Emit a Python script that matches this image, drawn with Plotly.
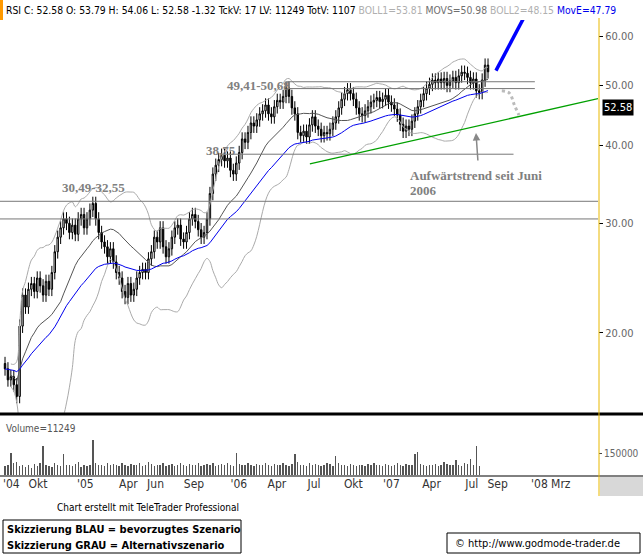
import plotly.graph_objects as go
import pandas as pd
import numpy as np

closes = [17.5,16.8,17.0,16.5,15.8,20.5,23.0,22.0,23.5,24.0,23.3,24.5,23.8,23.0,24.2,23.5,25.0,
          27.0,28.5,29.5,30.5,30.0,29.0,29.8,28.8,30.5,31.0,29.5,30.5,31.5,32.3,30.5,
          29.0,28.0,27.5,26.5,27.3,26.0,25.0,24.5,23.3,22.8,24.0,23.0,23.5,24.5,25.0,25.3,25.0,26.3,27.0,
          28.5,28.0,29.5,27.5,26.5,27.3,28.5,29.5,29.8,28.3,28.0,29.0,30.5,31.0,
          30.2,29.3,28.5,29.0,30.5,33.5,36.0,37.2,38.0,38.6,37.8,38.2,36.5,36.0,37.5,
          39.0,41.0,40.5,42.0,43.5,43.0,44.0,45.0,45.5,46.5,45.0,44.5,46.2,47.3,47.0,
          48.0,49.5,48.0,46.0,45.0,42.0,41.5,42.2,41.3,43.2,44.5,43.0,42.5,
          41.5,42.0,41.8,42.5,43.5,44.5,46.0,47.5,48.5,49.2,48.5,47.5,
          46.0,45.0,44.7,45.5,46.2,47.0,47.3,47.8,47.1,47.5,48.2,47.0,46.5,
          45.8,44.8,43.3,42.2,43.0,42.5,43.8,45.0,46.2,47.3,48.5,49.5,50.2,51.0,
          50.5,51.2,50.5,51.3,50.0,50.8,51.5,50.5,51.8,52.5,52.3,51.5,50.5,51.2,
          49.0,48.7,51.0,53.9,52.58]
volumes = [60,70,150,80,90,60,70,55,65,50,75,60,80,200,70,60,55,80,65,60,140,70,65,60,75,90,
           55,70,60,65,240,80,70,65,60,85,70,75,65,60,80,70,60,75,70,65,80,60,70,90,75,
           60,70,65,85,60,70,75,60,65,80,70,60,75,65,70,80,60,65,75,70,85,60,70,75,65,
           80,70,60,150,75,70,65,80,70,60,75,70,65,85,70,60,75,70,65,80,70,
           60,75,140,90,70,65,60,80,70,75,65,60,70,80,75,60,130,85,70,65,60,75,70,
           60,65,70,60,75,70,80,65,70,60,75,70,60,65,80,70,60,75,70,65,
           140,160,75,70,60,65,70,75,60,70,90,75,65,70,100,70,60,85,75,110,70,200,60]
tick_dates = ["2004-07-06","2004-09-08","2004-12-30","2005-04-12","2005-06-16","2005-09-16",
              "2006-01-01","2006-04-02","2006-06-30","2006-10-02","2007-01-01","2007-04-07",
              "2007-07-12","2007-09-12","2007-12-21","2008-02-10"]
tick_text = ["'04","Okt","'05","Apr","Jun","Sep","'06","Apr","Jul","Okt","'07","Apr","Jul","Sep","'08","Mrz"]
levels_hi = [49.41, 50.68]
level_mid = 38.75
levels_lo = [30.49, 32.55]
trend_dates = ["2006-06-20", "2008-05-09"]
trend_vals = [37.4, 47.6]
blue_dates = ["2007-09-08", "2007-11-15"]
blue_vals = [52.8, 64.5]
grey_dates = ["2007-09-22", "2007-10-10", "2007-10-22", "2007-11-02"]
grey_vals = [49.0, 48.6, 46.5, 44.8]

dates = pd.date_range("2004-06-21", periods=len(closes), freq="7D")
c = pd.Series(closes, index=dates)
o = c.shift(1).fillna(c.iloc[0] * 1.02)
hi = np.maximum(o, c) * 1.025
lo = np.minimum(o, c) * 0.975
sma = c.rolling(20, min_periods=3).mean()
sd = c.rolling(20, min_periods=3).std()
ema = c.ewm(span=40, adjust=False).mean()

fig = go.Figure()
fig.add_trace(go.Scatter(x=dates, y=sma + 2 * sd, mode="lines", line=dict(color="#aaaaaa", width=1, shape="spline")))
fig.add_trace(go.Scatter(x=dates, y=sma - 2 * sd, mode="lines", line=dict(color="#aaaaaa", width=1, shape="spline")))
fig.add_trace(go.Scatter(x=dates, y=sma, mode="lines", line=dict(color="#555555", width=1)))
fig.add_trace(go.Scatter(x=dates, y=ema, mode="lines", line=dict(color="#0000ee", width=1)))
fig.add_trace(go.Candlestick(x=dates, open=o, high=hi, low=lo, close=c,
                             increasing=dict(line=dict(color="black", width=1), fillcolor="white"),
                             decreasing=dict(line=dict(color="black", width=1), fillcolor="black"),
                             whiskerwidth=0))
lc = "#777777"
for v in levels_hi:
    fig.add_trace(go.Scatter(x=["2006-04-25", "2007-12-10"], y=[v, v], mode="lines", line=dict(color=lc, width=1)))
fig.add_trace(go.Scatter(x=["2005-11-20", "2007-10-20"], y=[level_mid, level_mid], mode="lines", line=dict(color=lc, width=1)))
for v in levels_lo:
    fig.add_trace(go.Scatter(x=["2004-06-09", "2008-05-09"], y=[v, v], mode="lines", line=dict(color=lc, width=1)))
fig.add_trace(go.Scatter(x=trend_dates, y=trend_vals, mode="lines", line=dict(color="#00a000", width=1.3)))
fig.add_trace(go.Scatter(x=blue_dates, y=blue_vals, mode="lines", line=dict(color="#0000ff", width=3.5)))
fig.add_trace(go.Scatter(x=grey_dates, y=grey_vals, mode="lines", line=dict(color="#bbbbbb", width=3, dash="dot", shape="spline")))
fig.add_trace(go.Bar(x=dates, y=[v * 1000 for v in volumes], marker=dict(color="#555555", line=dict(width=0)),
                     width=0.9 * 86400000, xaxis="x2", yaxis="y2"))

W, H = 643, 555
px = lambda x: x / W
py = lambda y: 1 - y / H
NAR = "DejaVu Sans Condensed"
ann = []
def t(x, y, s, size=12, color="#808080", font="Liberation Serif", bold=True, xa="left", ya="middle"):
    ann.append(dict(x=px(x), y=py(y), xref="paper", yref="paper", text=("<b>%s</b>" % s) if bold else s,
                    showarrow=False, xanchor=xa, yanchor=ya, font=dict(family=font, size=size, color=color)))
t(225, 86, "49,41-50,68", 13)
t(204, 150, "38,75", 13)
t(60, 187, "30,49-32,55", 13)
t(408, 175, "Aufwärtstrend seit Juni", 13)
t(408, 190, "2006", 13)
hdr = ("RSI C: 52.58 O: 53.79 H: 54.06 L: 52.58 -1.32 TckV: 17 LV: 11249 TotV: 1107 "
       "<span style='color:#b0b0b0'>BOLL1=53.81</span> <span style='color:#707070'>MOVS=50.98</span> "
       "<span style='color:#b0b0b0'>BOLL2=48.15</span> <span style='color:#0000ee'>MovE=47.79</span>")
t(4, 10, hdr, 10.3, "black", NAR, False)
t(4, 428, "Volume=11249", 10, "#555555", NAR, False)
t(55, 507, "Chart erstellt mit TeleTrader Professional", 10, "black", NAR, False)
t(5, 529, "Skizzierung BLAU = bevorzugtes Szenario", 11, "black", NAR)
t(5, 545, "Skizzierung GRAU = Alternativszenario", 11, "black", NAR)
t(453, 543, "© http://www.godmode-trader.de", 11, "black", NAR, False)
ann.append(dict(x=px(602), y=py(99), xref="paper", yref="paper", text="52.58", showarrow=False, xanchor="left",
                bgcolor="black", font=dict(family=NAR, size=11, color="white"), borderpad=1))
ann.append(dict(x=px(476), y=py(133), ax=2, ay=29, xref="paper", yref="paper",
                showarrow=True, arrowhead=2, arrowsize=1, arrowwidth=1.5, arrowcolor="#888888", text=""))

shapes = [
    dict(type="rect", xref="paper", yref="paper", x0=0, x1=px(3), y0=py(20), y1=py(0), fillcolor="#ff9900", line=dict(width=0)),
    dict(type="line", xref="paper", yref="paper", x0=0, x1=1, y0=py(414), y1=py(414), line=dict(color="black", width=3)),
    dict(type="line", xref="paper", yref="paper", x0=0, x1=1, y0=py(476), y1=py(476), line=dict(color="black", width=1)),
    dict(type="line", xref="paper", yref="paper", x0=px(599), x1=px(599), y0=py(496), y1=py(18), line=dict(color="#e8b800", width=1)),
    dict(type="rect", xref="paper", yref="paper", x0=px(600), x1=px(643), y0=py(496), y1=py(477), fillcolor="#d8d8d8", line=dict(width=0)),
    dict(type="rect", xref="paper", yref="paper", x0=px(3), x1=px(241), y0=py(553), y1=py(520), line=dict(color="black", width=1)),
    dict(type="rect", xref="paper", yref="paper", x0=px(447), x1=px(640), y0=py(553), y1=py(533), line=dict(color="black", width=1)),
]

xr = ["2004-06-09", "2008-05-09"]
fig.update_layout(
    width=W, height=H, margin=dict(l=0, r=0, t=0, b=0), paper_bgcolor="white", plot_bgcolor="white",
    showlegend=False, annotations=ann, shapes=shapes, bargap=0,
    xaxis=dict(domain=[0, px(598)], range=xr, showticklabels=False, showgrid=False, rangeslider=dict(visible=False),
               anchor="y"),
    yaxis=dict(domain=[py(413), py(20)], type="log", range=[np.log10(14.86), np.log10(63.7)], side="right",
               tickvals=[20, 30, 40, 50, 60], ticktext=["20.00", "30.00", "40.00", "50.00", "60.00"],
               showgrid=False, ticks="outside", ticklen=4, tickcolor="black",
               tickfont=dict(family=NAR, size=11, color="#666666")),
    xaxis2=dict(domain=[0, px(598)], range=xr, anchor="y2", showgrid=False, tickvals=tick_dates, ticktext=tick_text,
                ticks="", tickfont=dict(family=NAR, size=12, color="#333333")),
    yaxis2=dict(domain=[py(475), py(420)], range=[0, 375000], side="right", tickvals=[150000], ticktext=["150000"],
                showgrid=False, ticks="outside", ticklen=3, anchor="x2",
                tickfont=dict(family=NAR, size=10, color="#666666")),
)
fig.write_html("out.html", config={"displayModeBar": False},
               post_script="document.body.style.margin='0';document.body.style.overflow='hidden';")
